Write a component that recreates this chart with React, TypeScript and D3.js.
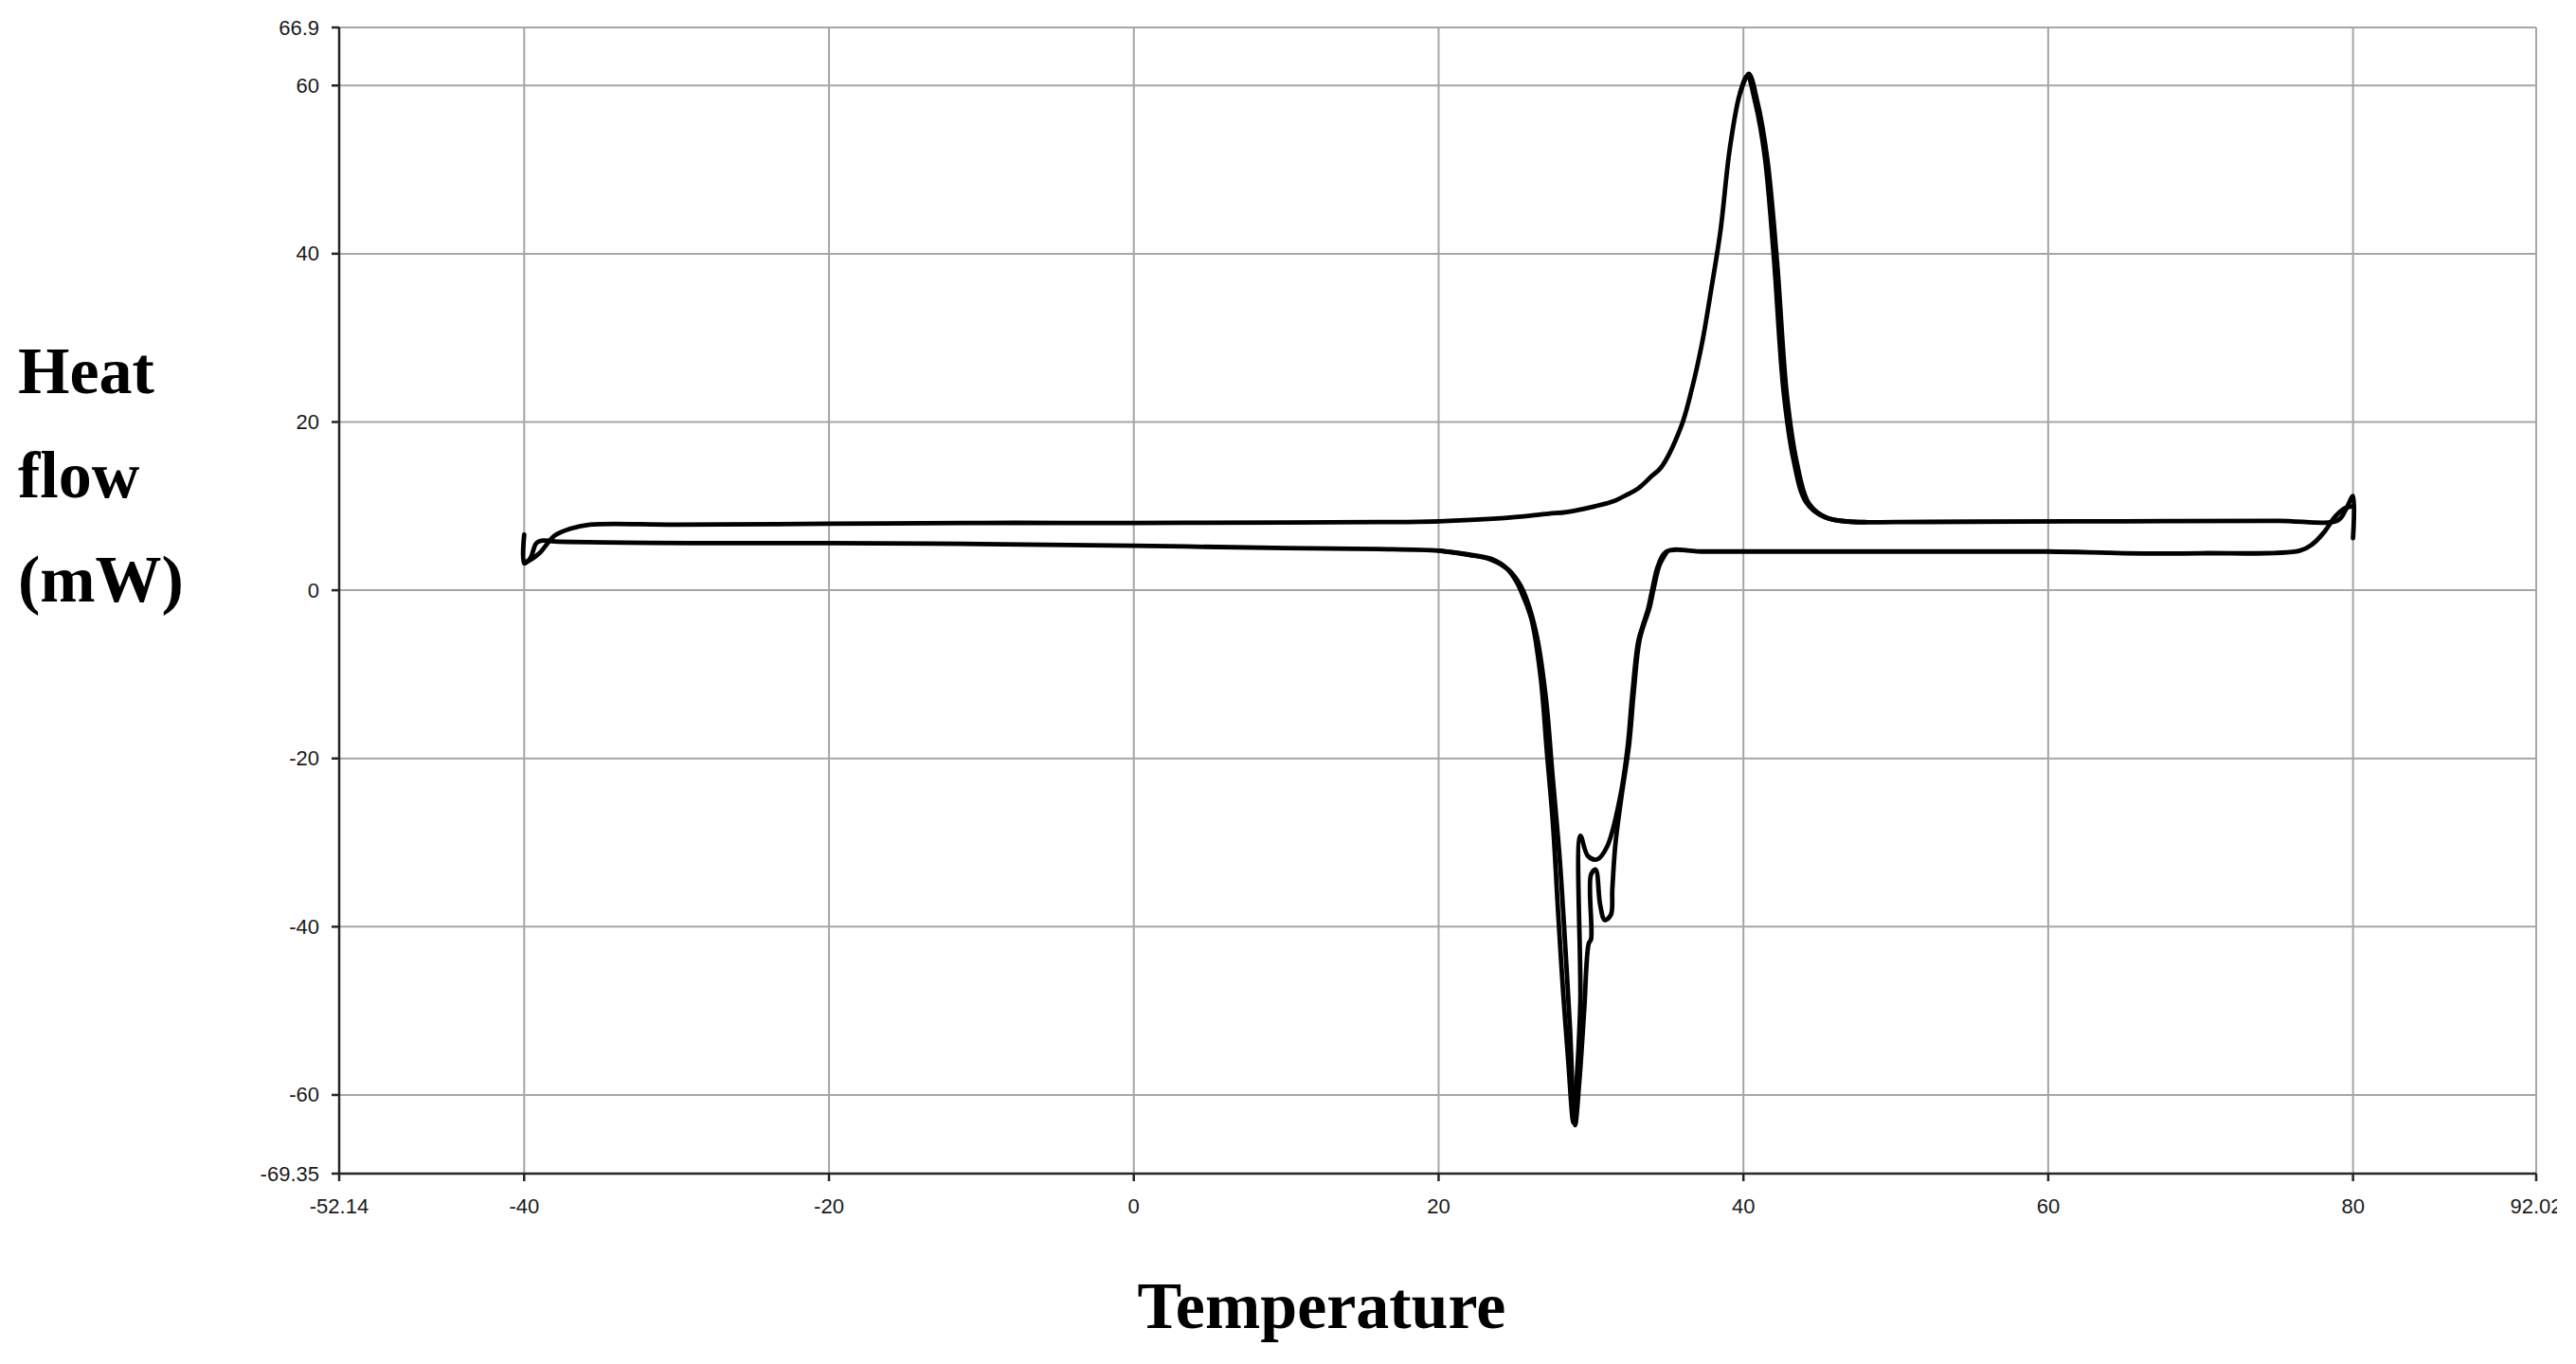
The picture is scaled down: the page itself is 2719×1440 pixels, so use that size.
import * as d3 from 'd3';

// DSC thermogram: heating run (endotherm near 29 °C) and cooling run (exotherm near 40 °C)
const X_TICKS = [-52.14, -40, -20, 0, 20, 40, 60, 80, 92.02];
const Y_TICKS = [66.9, 60, 40, 20, 0, -20, -40, -60, -69.35];
const X_LABELS = ['-52.14', '-40', '-20', '0', '20', '40', '60', '80', '92.02'];
const Y_LABELS = ['66.9', '60', '40', '20', '0', '-20', '-40', '-60', '-69.35'];

type Pt = [number, number];

// heating, first trace
const heating1: Pt[] = [
  [-40, 6.6], [-40, 3.2], [-39.6, 3.8], [-39.2, 5.6], [-38.8, 5.9], [-38, 5.8],
  [-28, 5.6], [-20, 5.6], [-10, 5.5], [0, 5.3], [10, 5.0], [16, 4.9], [20, 4.7],
  [22, 4.25], [23.5, 3.7], [24.5, 2.55], [25.1, 1.05], [25.5, -0.5], [26.1, -3.5],
  [26.7, -10.4], [27.1, -19.1], [27.5, -27.7], [27.85, -38.5], [28.15, -47.2],
  [28.5, -55.8], [28.85, -63.3], [29.1, -57], [29.3, -49], [29.3, -29.2],
  [29.8, -31.6], [30.4, -32], [31.05, -30.5], [31.9, -24.7], [32.4, -18.7],
  [32.7, -12.6], [33.1, -6.1], [33.4, -4.2], [33.75, -2.2], [34.0, -0.1],
  [34.4, 2.9], [34.95, 4.6], [37.5, 4.6], [50, 4.6], [60, 4.6], [65, 4.4],
  [70, 4.4], [76.5, 4.7], [77.35, 5.5], [78.1, 6.9], [78.8, 8.7], [79.4, 9.7], [80, 10],
];

// heating, second trace (only the melting region differs visibly)
const heating2: Pt[] = [
  [20, 4.7], [22, 4.2], [23.5, 3.6], [24.6, 2.4], [25.3, 0.8], [25.8, -1.2],
  [26.45, -5.5], [27.05, -13], [27.45, -21.5], [27.95, -32], [28.3, -42],
  [28.62, -52], [28.95, -63.6], [29.25, -58], [29.55, -50], [29.85, -42],
  [30.0, -41.5], [30.0, -33.8], [30.3, -33.2], [30.6, -37.4], [30.9, -39.2],
  [31.3, -38.6], [31.4, -35.5], [31.6, -30.2], [32.0, -24.5], [32.5, -18.3],
  [32.8, -12.2], [33.2, -5.8], [33.85, -2.0], [34.1, 0.1], [34.5, 3.0], [35.0, 4.6],
];

// cooling, first trace
const cooling1: Pt[] = [
  [80, 6.2], [80, 11.2], [79.5, 9.5], [79, 8.3], [75, 8.25], [65, 8.2], [55, 8.15],
  [50, 8.1], [47, 8.15], [45.3, 8.7], [44.1, 10.5], [43.3, 15.4], [42.65, 23.4],
  [42.0, 39.5], [41.4, 51.6], [40.8, 57.8], [40.25, 61.1], [39.75, 58.9],
  [39.1, 52.4], [38.5, 42.8], [37.9, 35.9], [37.3, 29.5], [36.6, 23.8],
  [35.9, 19.4], [34.6, 14.6], [34.0, 13.6], [33.1, 12.1], [32.4, 11.4],
  [31.5, 10.6], [30.3, 10.0], [28.4, 9.3], [27.2, 9.1], [24.1, 8.55], [20, 8.2],
  [16, 8.1], [10, 8.05], [0, 8.0], [-10, 8.0], [-20, 7.9], [-30, 7.8],
  [-35.7, 7.8], [-37, 7.3], [-38, 6.5], [-39, 4.4], [-39.6, 3.6], [-40, 3.3],
];

// cooling, second trace (falling side of the exotherm)
const cooling2: Pt[] = [
  [48, 8.1], [45.5, 8.6], [44.3, 10.3], [43.5, 15.2], [42.85, 23.2], [42.2, 39.2],
  [41.55, 51.5], [40.9, 58.2], [40.35, 61.4], [39.8, 59.2],
];

const WIDTH = 2719;
const HEIGHT = 1440;
const LEFT = 358;
const RIGHT = 2677;
const TOP = 29;
const BOTTOM = 1239;

const GRID = '#a6a6a6';
const AXIS = '#262626';
const LABEL_FONT = '"Liberation Sans", Arial, sans-serif';
const TITLE_FONT = '"Liberation Serif", "Times New Roman", serif';

export default function App() {
  const x = d3.scaleLinear().domain([-52.14, 92.02]).range([LEFT, RIGHT]);
  const y = d3.scaleLinear().domain([-69.35, 66.9]).range([BOTTOM, TOP]);

  const line = d3
    .line<Pt>()
    .x((d) => x(d[0]))
    .y((d) => y(d[1]))
    .curve(d3.curveCatmullRom.alpha(0.5));

  const traces = [heating1, heating2, cooling1, cooling2];

  return (
    <svg
      width={WIDTH}
      height={HEIGHT}
      viewBox={`0 0 ${WIDTH} ${HEIGHT}`}
      style={{ position: 'fixed', left: 0, top: 0, background: '#fff' }}
    >
      <defs>
        <clipPath id="label-clip">
          <rect x={0} y={0} width={2699} height={HEIGHT} />
        </clipPath>
      </defs>

      {/* grid */}
      <g stroke={GRID} strokeWidth={2}>
        {X_TICKS.slice(1).map((t) => (
          <line key={`gx${t}`} x1={x(t)} x2={x(t)} y1={TOP} y2={BOTTOM} />
        ))}
        {Y_TICKS.slice(0, -1).map((t) => (
          <line key={`gy${t}`} x1={LEFT} x2={RIGHT} y1={y(t)} y2={y(t)} />
        ))}
      </g>

      {/* axes */}
      <g stroke={AXIS} strokeWidth={2.5}>
        <line x1={LEFT} x2={LEFT} y1={TOP} y2={BOTTOM} />
        <line x1={LEFT} x2={RIGHT} y1={BOTTOM} y2={BOTTOM} />
        {X_TICKS.map((t) => (
          <line key={`tx${t}`} x1={x(t)} x2={x(t)} y1={BOTTOM} y2={BOTTOM + 8} />
        ))}
        {Y_TICKS.map((t) => (
          <line key={`ty${t}`} x1={LEFT - 8} x2={LEFT} y1={y(t)} y2={y(t)} />
        ))}
      </g>

      <g
        fontFamily={LABEL_FONT}
        fontSize={22}
        fill="#1a1a1a"
        clipPath="url(#label-clip)"
      >
        {X_TICKS.map((t, i) => (
          <text key={`lx${t}`} x={x(t)} y={BOTTOM + 42} textAnchor="middle">
            {X_LABELS[i]}
          </text>
        ))}
        {Y_TICKS.map((t, i) => (
          <text
            key={`ly${t}`}
            x={LEFT - 21}
            y={y(t)}
            textAnchor="end"
            dominantBaseline="central"
          >
            {Y_LABELS[i]}
          </text>
        ))}
      </g>

      {/* curves */}
      <g fill="none" stroke="#000" strokeWidth={4.8} strokeLinejoin="round" strokeLinecap="round">
        {traces.map((d, i) => (
          <path key={i} d={line(d)!} />
        ))}
      </g>

      {/* axis titles */}
      <g fontFamily={TITLE_FONT} fontWeight="bold" fontSize={70} fill="#000">
        <text x={19} y={415}>Heat</text>
        <text x={19} y={525}>flow</text>
        <text x={19} y={635}>(mW)</text>
        <text x={1395} y={1402} textAnchor="middle">Temperature</text>
      </g>
    </svg>
  );
}
